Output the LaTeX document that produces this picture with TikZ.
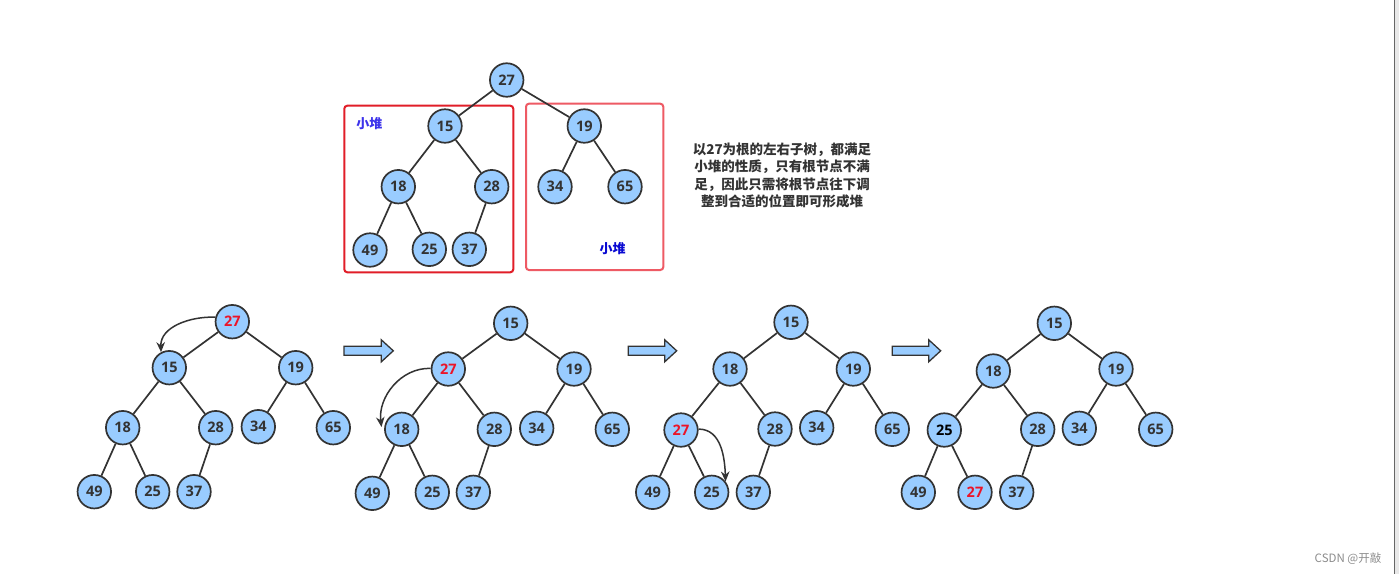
\documentclass[tikz,border=0pt]{standalone}
\usepackage{fontspec}
\usetikzlibrary{arrows.meta}
\newfontfamily\numfont{Open Sans}
\newfontfamily\cjk{Noto Sans CJK SC}
\definecolor{nodefill}{RGB}{153,204,255}
\definecolor{ink}{RGB}{51,51,51}
\definecolor{hot}{RGB}{235,20,40}
\definecolor{boxred}{RGB}{225,30,40}
\definecolor{boxpink}{RGB}{238,90,100}
\definecolor{lblue}{RGB}{60,50,235}
\definecolor{dblue}{RGB}{10,10,210}
\tikzset{
  hn/.style={circle, draw=ink, line width=1.7pt, fill=nodefill, minimum size=33.5pt, inner sep=0pt,
    font=\numfont\bfseries\fontsize{14.5}{14.5}\selectfont, text=ink},
  hot/.style={text=hot},
  edge/.style={draw=ink, line width=1.7pt},
  swap/.style={draw=ink, line width=1.5pt, -{Stealth[length=10pt,width=8.5pt]}},
  heapbox/.style={line width=2pt, rounded corners=3pt},
  heaplabel/.style={font=\cjk\bfseries\fontsize{13}{13}\selectfont},
  blockarrow/.style={draw=ink, line width=1.3pt, fill=nodefill, line join=miter}
}
\newcommand{\blockarr}[4]{% name, x0, y, x1
  \draw[blockarrow] (#2,#3-4.5) -- (#4-12,#3-4.5) -- (#4-12,#3-11) -- (#4,#3) -- (#4-12,#3+11)
    -- (#4-12,#3+4.5) -- (#2,#3+4.5) -- cycle;
  \coordinate (#1) at (#2,#3);
}
\newcommand{\treeedges}[1]{%
  \draw[edge] (#1r) -- (#1a);
  \draw[edge] (#1r) -- (#1b);
  \draw[edge] (#1a) -- (#1c);
  \draw[edge] (#1a) -- (#1d);
  \draw[edge] (#1b) -- (#1e);
  \draw[edge] (#1b) -- (#1f);
  \draw[edge] (#1c) -- (#1g);
  \draw[edge] (#1c) -- (#1h);
  \draw[edge] (#1d) -- (#1i);
}
\begin{document}
\begin{tikzpicture}[x=1pt,y=-1pt]
\useasboundingbox (0,0) rectangle (1399,574);
\fill[white] (0,0) rectangle (1399,574);
\fill[black!9] (1395,0) rectangle (1399,574);
\draw[black!60, line width=1pt] (1394.7,0) -- (1394.7,574);

% ---------- top tree ----------
\draw[heapbox, draw=boxred] (344.3,105.7) rectangle (513.3,272.3);
\draw[heapbox, draw=boxpink] (526,103.7) rectangle (663.3,270);
\node[heaplabel, text=lblue] (lbl1) at (369.3,123.3) {小堆};
\node[heaplabel, text=dblue] (lbl2) at (612.7,249) {小堆};

\node[hn] (Tr) at (506.7,80) {27};
\node[hn] (Ta) at (445,126) {15};
\node[hn] (Tb) at (584.3,126) {19};
\node[hn] (Tc) at (398.3,186.7) {18};
\node[hn] (Td) at (491.7,186.7) {28};
\node[hn] (Te) at (555,186.7) {34};
\node[hn] (Tf) at (625,186.7) {65};
\node[hn] (Tg) at (370,250) {49};
\node[hn] (Th) at (429.3,249.3) {25};
\node[hn] (Ti) at (469.3,249.3) {37};
\treeedges{T}

\node[font=\cjk\bfseries\fontsize{13.5}{17.2}\selectfont, text=ink, align=center] (note) at (782,175.5)
  {以27为根的左右子树，都满足\\小堆的性质，只有根节点不满\\足，因此只需将根节点往下调\\整到合适的位置即可形成堆};

% ---------- tree 1 ----------
\node[hn,hot] (Ar) at (232.3,321.7) {27};
\node[hn] (Aa) at (169.3,367.7) {15};
\node[hn] (Ab) at (295.7,367.7) {19};
\node[hn] (Ac) at (122.7,427.7) {18};
\node[hn] (Ad) at (215.7,427.7) {28};
\node[hn] (Ae) at (258.3,426.7) {34};
\node[hn] (Af) at (333.3,427.7) {65};
\node[hn] (Ag) at (94.3,491.7) {49};
\node[hn] (Ah) at (152.7,491.7) {25};
\node[hn] (Ai) at (194,491.7) {37};
\treeedges{A}
\draw[swap] (Ar.165) to[out=178, in=92] (Aa.118);

\blockarr{arr1}{344}{350.8}{393.3}

% ---------- tree 2 ----------
\node[hn] (Br) at (510.7,323.3) {15};
\node[hn,hot] (Ba) at (448.3,369) {27};
\node[hn] (Bb) at (574,369) {19};
\node[hn] (Bc) at (401.7,429.3) {18};
\node[hn] (Bd) at (494.3,429.3) {28};
\node[hn] (Be) at (536.7,428.3) {34};
\node[hn] (Bf) at (612.3,429.3) {65};
\node[hn] (Bg) at (372.3,493.3) {49};
\node[hn] (Bh) at (432.3,492.3) {25};
\node[hn] (Bi) at (473.3,492.3) {37};
\treeedges{B}
\coordinate (Btip) at (381.5,427);
\draw[swap] (Ba.178) to[out=178, in=97] (Btip);

\blockarr{arr2}{628.3}{350.8}{676.7}

% ---------- tree 3 ----------
\node[hn] (Cr) at (791,322.3) {15};
\node[hn] (Ca) at (730,369) {18};
\node[hn] (Cb) at (853.3,369) {19};
\node[hn,hot] (Cc) at (681,430) {27};
\node[hn] (Cd) at (775,429) {28};
\node[hn] (Ce) at (816.7,427.7) {34};
\node[hn] (Cf) at (892.3,429.3) {65};
\node[hn] (Cg) at (652.7,492.3) {49};
\node[hn] (Ch) at (711.7,492.3) {25};
\node[hn] (Ci) at (753.3,492.3) {37};
\treeedges{C}
\draw[swap] (Cc.3) to[out=0, in=92] (Ch.38);

\blockarr{arr3}{892.3}{350.8}{940.7}

% ---------- tree 4 ----------
\node[hn] (Dr) at (1054.3,323.3) {15};
\node[hn] (Da) at (993.3,371) {18};
\node[hn] (Db) at (1116,369) {19};
\node[hn,text=black] (Dc) at (944.3,430) {25};
\node[hn] (Dd) at (1037.7,429.3) {28};
\node[hn] (De) at (1079.3,428.3) {34};
\node[hn] (Df) at (1155.7,429.3) {65};
\node[hn] (Dg) at (918.3,492.3) {49};
\node[hn,hot] (Dh) at (975,492.3) {27};
\node[hn] (Di) at (1016.7,492.3) {37};
\treeedges{D}

\node[font=\cjk\fontsize{11.5}{11.5}\selectfont, text=black!45] (wm) at (1348,559) {CSDN @开敲};
\end{tikzpicture}
\end{document}
